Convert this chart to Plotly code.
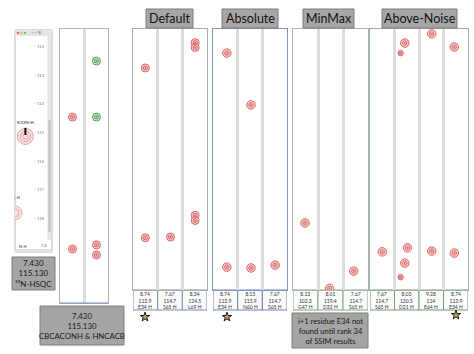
import plotly.graph_objects as go

W, H = 474, 354


def px(x):
    return x / W


def py(y):
    return 1 - y / H


# ---------------- DATA ----------------
# 15N-HSQC window (1H ppm, 15N ppm)
hsqc_h = [7.430]
hsqc_n = [115.13]
hsqc_edge_h = [7.560]
hsqc_edge_n = [117.80]
hsqc_ticks = [112, 113, 114, 115, 116, 117, 118]
hsqc_peak_label = "K33N-H"
hsqc_info = ["7.430", "115.130", "¹⁵N-HSQC"]
triple_info = ["7.430", "115.130", "CBCACONH & HNCACB"]

# CBCACONH / HNCACB strips (strip position, 13C ppm)
cbca_red_x = [0.52, 0.52, 1.52, 1.52]
cbca_red_c = [30.9, 62.2, 61.2, 63.6]
cbca_green_x = [1.52, 1.52]
cbca_green_c = [17.6, 30.9]

panel_titles = ["Default", "Absolute", "MinMax", "Above-Noise"]

default_x = [0.50, 0.50, 1.52, 2.52, 2.52, 2.52, 2.52]
default_c = [19.7, 62.0, 61.8, 13.4, 14.6, 56.4, 57.7]
default_strips = [["8.74", "113.9", "E34 H"], ["7.67", "114.7", "S65 H"], ["8.34", "124.5", "L69 H"]]

absolute_x = [0.56, 0.56, 1.54, 1.54, 2.52]
absolute_c = [16.0, 69.3, 28.9, 69.5, 68.8]
absolute_strips = [["8.74", "113.9", "E34 H"], ["8.15", "115.9", "N60 H"], ["7.67", "114.7", "S65 H"]]

minmax_x = [0.48, 1.46, 2.43]
minmax_c = [58.3, 74.6, 70.3]
minmax_strips = [["8.13", "102.3", "G47 H"], ["8.01", "119.4", "D32 H"], ["7.67", "114.7", "S65 H"]]
minmax_note = ["i+1 residue E34 not", "found until rank 34", "of SSIM results"]

noise_x = [0.50, 1.42, 1.53, 1.42, 2.52, 2.52, 3.44, 3.44]
noise_c = [65.5, 13.5, 64.5, 68.3, 11.2, 65.3, 14.5, 65.8]
noise_weak_x = [1.25, 1.25]
noise_weak_c = [16.0, 71.8]
noise_strips = [["7.67", "114.7", "S65 H"], ["8.03", "120.5", "D21 H"],
                ["9.28", "114", "E64 H"], ["8.74", "113.9", "E34 H"]]

# ---------------- LAYOUT GEOMETRY ----------------
FONT = "Lato"
RED, RED_FILL = "#d96666", "#f7cccc"
GREEN, GREEN_FILL = "#4f9a55", "#d6ecd6"

fig = go.Figure()
shapes, annos = [], []
layout = {}

# panel name: (x0, x1, y0, y1, nstrips, border, labelborder, title box, strip labels)
panels = [
    ("cbca", 60, 108, 29, 303, 2, "#b4b4b4", None, None, None),
    ("default", 133, 207, 29, 290, 3, "#ababab", "#7d8db5", (146, 193), default_strips),
    ("absolute", 213, 287, 29, 290, 3, "#8494c4", "#6f83c0", (222, 278), absolute_strips),
    ("minmax", 293, 368, 29, 290, 3, "#adb6ad", "#7fa97f", (303, 354), minmax_strips),
    ("noise", 370, 468, 29, 290, 4, "#9fae9f", "#6fa06f", (382, 457), noise_strips),
]

axis_of = {}
for i, (name, x0, x1, y0, y1, n, bc, lbc, tb, strips) in enumerate(panels):
    k = i + 2
    axis_of[name] = ("x%d" % k, "y%d" % k)
    layout["xaxis%d" % k] = dict(
        domain=[px(x0), px(x1)], range=[0, n], anchor="y%d" % k,
        tickvals=list(range(1, n)), showgrid=True, gridcolor="#dcdcdc", gridwidth=3,
        showticklabels=False, ticks="", zeroline=False,
        showline=True, mirror=True, linecolor=bc, linewidth=1, fixedrange=True)
    layout["yaxis%d" % k] = dict(
        domain=[py(y1), py(y0)], range=[75, 10], anchor="x%d" % k,
        showgrid=False, showticklabels=False, ticks="", zeroline=False,
        showline=True, mirror=True, linecolor=bc, linewidth=1, fixedrange=True)
    if strips is not None:
        for j, lab in enumerate(strips):
            shapes.append(dict(type="rect", xref="x%d" % k, yref="paper",
                               x0=j, x1=j + 1, y0=py(310), y1=py(290),
                               line=dict(color=lbc, width=1), fillcolor="#fbfbfb", layer="below"))
            annos.append(dict(xref="x%d" % k, yref="paper", x=j + 0.5, y=py(300),
                              text="<br>".join(lab), showarrow=False,
                              font=dict(family=FONT, size=5, color="#333"),
                              xanchor="center", yanchor="middle"))
    if tb is not None:
        shapes.append(dict(type="rect", xref="paper", yref="paper",
                           x0=px(tb[0]), x1=px(tb[1]), y0=py(28), y1=py(9),
                           line=dict(color="#7c7c7c", width=1), fillcolor="#a6a6a6"))
        annos.append(dict(xref="paper", yref="paper", x=px((tb[0] + tb[1]) / 2), y=py(18.5),
                          text=panel_titles[i - 1], showarrow=False,
                          font=dict(family=FONT, size=12.5, color="#111"),
                          xanchor="center", yanchor="middle"))

# CBCA bottom line (bluish)
shapes.append(dict(type="line", xref="paper", yref="paper", x0=px(60), x1=px(108),
                   y0=py(303), y1=py(303), line=dict(color="#7d8db5", width=1)))


def add_peaks(xs, cs, ax, color, fill, size):
    xa, ya = ax
    fig.add_trace(go.Scatter(x=xs, y=cs, xaxis=xa, yaxis=ya, mode="markers",
                             marker=dict(symbol="circle", size=size, color=fill,
                                         line=dict(color=color, width=1)),
                             hoverinfo="skip", showlegend=False))
    fig.add_trace(go.Scatter(x=xs, y=cs, xaxis=xa, yaxis=ya, mode="markers",
                             marker=dict(symbol="circle-open", size=size * 0.5, color=color,
                                         line=dict(color=color, width=1)),
                             hoverinfo="skip", showlegend=False))
    fig.add_trace(go.Scatter(x=xs, y=cs, xaxis=xa, yaxis=ya, mode="markers",
                             marker=dict(symbol="circle", size=1.8, color=color),
                             hoverinfo="skip", showlegend=False))


add_peaks(cbca_red_x, cbca_red_c, axis_of["cbca"], RED, RED_FILL, 8)
add_peaks(cbca_green_x, cbca_green_c, axis_of["cbca"], GREEN, GREEN_FILL, 8)
add_peaks(default_x, default_c, axis_of["default"], RED, RED_FILL, 8)
add_peaks(absolute_x, absolute_c, axis_of["absolute"], RED, RED_FILL, 8.5)
add_peaks(minmax_x, minmax_c, axis_of["minmax"], RED, RED_FILL, 8.5)
add_peaks(noise_x, noise_c, axis_of["noise"], RED, RED_FILL, 8.5)
add_peaks(noise_weak_x, noise_weak_c, axis_of["noise"], RED, RED_FILL, 5.5)

# ---------------- 15N-HSQC window ----------------
layout["xaxis"] = dict(domain=[px(15), px(47)], range=[7.56, 7.16], anchor="y",
                       showgrid=False, showticklabels=False, ticks="", zeroline=False,
                       showline=False, fixedrange=True)
layout["yaxis"] = dict(domain=[py(250), py(36)], range=[119.10, 111.62], anchor="x",
                       side="right", ticklabelposition="inside",
                       tickvals=hsqc_ticks, ticktext=["- %d" % t for t in hsqc_ticks],
                       tickfont=dict(family=FONT, size=4, color="#777"),
                       showgrid=False, ticks="", zeroline=False, showline=False, fixedrange=True)
# window frame and chrome
shapes.append(dict(type="rect", xref="paper", yref="paper", x0=px(15), x1=px(52),
                   y0=py(252), y1=py(30), line=dict(color="#b8b8b8", width=1),
                   fillcolor="white", layer="below"))
shapes.append(dict(type="rect", xref="paper", yref="paper", x0=px(15), x1=px(52),
                   y0=py(36), y1=py(30), line=dict(width=0), fillcolor="#e6e6e6", layer="below"))
shapes.append(dict(type="rect", xref="paper", yref="paper", x0=px(47.5), x1=px(51.5),
                   y0=py(240), y1=py(36), line=dict(width=0), fillcolor="#e4e4e4", layer="below"))
shapes.append(dict(type="rect", xref="paper", yref="paper", x0=px(48.3), x1=px(50.7),
                   y0=py(232), y1=py(120), line=dict(width=0), fillcolor="#c4c4c4", layer="below"))
shapes.append(dict(type="rect", xref="paper", yref="paper", x0=px(15), x1=px(52),
                   y0=py(252), y1=py(249), line=dict(width=0), fillcolor="#e2e2e2", layer="below"))
for cx, col in [(18, "#e26b6b"), (21.5, "#e8c15a"), (25, "#6cc46c")]:
    shapes.append(dict(type="circle", xref="paper", yref="paper", x0=px(cx - 1.3), x1=px(cx + 1.3),
                       y0=py(34.3), y1=py(31.7), line=dict(width=0), fillcolor=col))
annos.append(dict(xref="paper", yref="paper", x=px(28.5), y=py(33), text="&lt; &gt; N..",
                  showarrow=False, font=dict(family=FONT, size=4, color="#666"),
                  xanchor="left", yanchor="middle"))

for s, op in [(16, False), (10.5, True), (5.5, True)]:
    fig.add_trace(go.Scatter(x=hsqc_h, y=hsqc_n, xaxis="x", yaxis="y", mode="markers",
                             marker=dict(symbol="circle-open" if op else "circle", size=s,
                                         color="#e79a9a" if op else "#fbe2e2",
                                         line=dict(color="#e8a0a0", width=1)),
                             hoverinfo="skip", showlegend=False))
for s, op in [(14, False), (8, True)]:
    fig.add_trace(go.Scatter(x=hsqc_edge_h, y=hsqc_edge_n, xaxis="x", yaxis="y", mode="markers",
                             marker=dict(symbol="circle-open" if op else "circle", size=s,
                                         color="#e9a6a6" if op else "#fbe2e2",
                                         line=dict(color="#eab0b0", width=1)),
                             hoverinfo="skip", showlegend=False))
fig.add_trace(go.Scatter(x=[hsqc_h[0], hsqc_h[0]], y=[hsqc_n[0] - 0.30, hsqc_n[0] - 0.05],
                         xaxis="x", yaxis="y", mode="lines", line=dict(color="#111", width=2),
                         hoverinfo="skip", showlegend=False))
annos.append(dict(xref="x", yref="y", x=hsqc_h[0], y=hsqc_n[0] - 0.32, text=hsqc_peak_label,
                  showarrow=False, font=dict(family=FONT, size=4.5, color="#222"),
                  xanchor="center", yanchor="bottom"))
annos.append(dict(xref="x", yref="y", x=hsqc_edge_h[0] - 0.02, y=hsqc_edge_n[0] - 0.38, text="...H",
                  showarrow=False, font=dict(family=FONT, size=4, color="#333"),
                  xanchor="center", yanchor="bottom"))
annos.append(dict(xref="paper", yref="paper", x=px(17), y=py(246.5), text="N-H",
                  showarrow=False, font=dict(family=FONT, size=4, color="#333"),
                  xanchor="left", yanchor="middle"))
annos.append(dict(xref="paper", yref="paper", x=px(39), y=py(245.5), text="7.4",
                  showarrow=False, font=dict(family=FONT, size=4, color="#555"),
                  xanchor="left", yanchor="middle"))

# ---------------- info boxes ----------------
boxes = [
    ((12, 55, 257, 290), hsqc_info, 8),
    ((40, 124, 306, 345), triple_info, 7.8),
    ((292, 368, 313, 348), minmax_note, 7.6),
]
for (bx0, bx1, by0, by1), lines, fs in boxes:
    shapes.append(dict(type="rect", xref="paper", yref="paper", x0=px(bx0), x1=px(bx1),
                       y0=py(by1), y1=py(by0), line=dict(color="#7e7e7e", width=1),
                       fillcolor="#a4a4a4"))
    annos.append(dict(xref="paper", yref="paper", x=px((bx0 + bx1) / 2), y=py((by0 + by1) / 2),
                      text="<br>".join(lines), showarrow=False,
                      font=dict(family=FONT, size=fs, color="#1a1a1a"),
                      xanchor="center", yanchor="middle"))

# ---------------- stars marking the correct i+1 residue (E34) ----------------
layout["xaxis20"] = dict(domain=[0, 1], range=[0, W], visible=False, anchor="y20", fixedrange=True)
layout["yaxis20"] = dict(domain=[0, 1], range=[H, 0], visible=False, anchor="x20", fixedrange=True)
fig.add_trace(go.Scatter(x=[145, 227, 456], y=[317, 317, 315], xaxis="x20", yaxis="y20",
                         mode="markers",
                         marker=dict(symbol="star", size=7, color="#b9a26a",
                                     line=dict(color="#1a1a1a", width=1)),
                         hoverinfo="skip", showlegend=False))

fig.update_layout(width=W, height=H, margin=dict(l=0, r=0, t=0, b=0),
                  paper_bgcolor="white", plot_bgcolor="rgba(0,0,0,0)",
                  showlegend=False, shapes=shapes, annotations=annos,
                  font=dict(family=FONT), **layout)

fig.write_html("out.html")
